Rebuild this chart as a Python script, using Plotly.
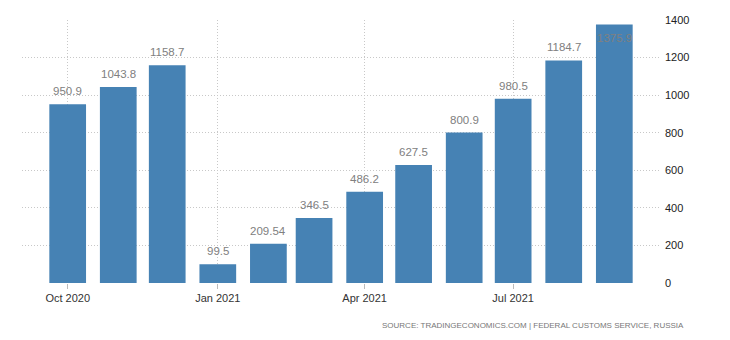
import plotly.graph_objects as go

months = ["2020-10-01", "2020-11-01", "2020-12-01", "2021-01-01", "2021-02-01", "2021-03-01",
          "2021-04-01", "2021-05-01", "2021-06-01", "2021-07-01", "2021-08-01", "2021-09-01"]
values = [950.9, 1043.8, 1158.7, 99.5, 209.54, 346.5, 486.2, 627.5, 800.9, 980.5, 1184.7, 1375.9]
x_tick_dates = ["2020-10-01", "2021-01-01", "2021-04-01", "2021-07-01"]
x_tick_labels = ["Oct 2020", "Jan 2021", "Apr 2021", "Jul 2021"]
y_ticks = [0, 200, 400, 600, 800, 1000, 1200, 1400]
source_text = "SOURCE: TRADINGECONOMICS.COM | FEDERAL CUSTOMS SERVICE, RUSSIA"

BAR_COLOR = "#4682b4"
DAY_MS = 86400000

fig = go.Figure()
fig.add_trace(go.Bar(
    x=months, y=values,
    marker=dict(color=BAR_COLOR, line=dict(width=0)),
    width=[22.5 * DAY_MS] * len(values),
    hoverinfo="x+y",
))

ymax = y_ticks[-1]
for i, (m, v) in enumerate(zip(months, values)):
    inside = v > ymax * 0.96
    fig.add_annotation(
        x=m, y=v, text=str(v), showarrow=False,
        yanchor="top" if inside else "bottom",
        yshift=-5 if inside else 5,
        font=dict(family="Liberation Sans, Arial, sans-serif", size=11.5, color="#808080"),
    )

fig.add_annotation(
    xref="paper", yref="paper", x=1.04, y=-0.16, xanchor="right", yanchor="middle",
    text=source_text, showarrow=False,
    font=dict(family="Liberation Sans, Arial, sans-serif", size=8, color="#777777"),
)

GRID = dict(showgrid=True, gridcolor="#c8c8c8", griddash="1px,2px", gridwidth=1)

fig.update_layout(
    width=730, height=340,
    margin=dict(l=22, r=70, t=20, b=57),
    paper_bgcolor="white", plot_bgcolor="white",
    showlegend=False,
    font=dict(family="Liberation Sans, Arial, sans-serif", size=11, color="#333333"),
    xaxis=dict(
        type="date",
        range=["2020-09-03", "2021-09-29"],
        tickvals=x_tick_dates, ticktext=x_tick_labels,
        ticks="outside", ticklen=5, tickcolor="#bbbbbb",
        showline=False, zeroline=False,
        tickfont=dict(size=11, color="#333333"),
        **GRID,
    ),
    yaxis=dict(
        range=[0, ymax], side="right",
        tickvals=y_ticks,
        zeroline=False, showline=False,
        ticklabelstandoff=4,
        tickfont=dict(size=11, color="#222222"),
        **GRID,
    ),
)

fig.write_html("out.html")
